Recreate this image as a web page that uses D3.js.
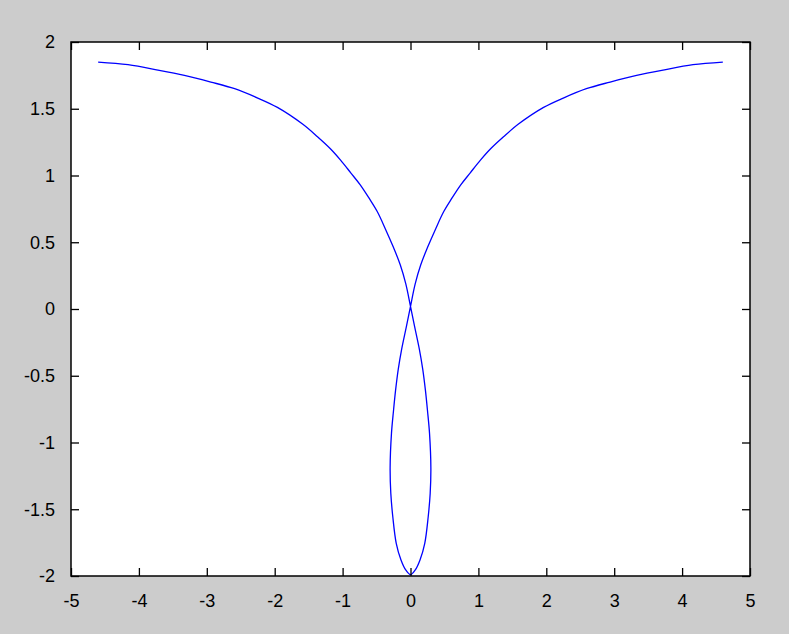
<!DOCTYPE html>
<html>
<head>
<meta charset="utf-8">
<script src="https://cdn.jsdelivr.net/npm/d3@7"></script>
<style>
  body { margin: 0; background: #cccccc; }
  svg { display: block; }
  .tick-label { font-family: "Liberation Sans", Arial, sans-serif; font-size: 18px; fill: #000; }
</style>
</head>
<body>
<script>
// tick values
var xTicks = [-5, -4, -3, -2, -1, 0, 1, 2, 3, 4, 5];
var yTicks = [-2, -1.5, -1, -0.5, 0, 0.5, 1, 1.5, 2];

// curve points, in drawing order
var xs = [-4.6, -4.16, -3.72, -3.33, -2.94, -2.59, -2.25, -1.96, -1.59, -1.37, -1.18, -1.03, -0.88, -0.74, -0.61, -0.49, -0.37, -0.25, -0.15, -0.07, 0,
          0.06, 0.13, 0.18, 0.22, 0.25, 0.28, 0.30, 0.29, 0.26, 0.21, 0.14, 0.07, 0,
          -0.07, -0.14, -0.21, -0.26, -0.29, -0.30, -0.28, -0.25, -0.22, -0.18, -0.13, -0.06, 0,
          0.07, 0.15, 0.25, 0.37, 0.49, 0.61, 0.74, 0.88, 1.03, 1.18, 1.37, 1.59, 1.96, 2.25, 2.59, 2.94, 3.33, 3.72, 4.16, 4.6];
var ys = [1.85, 1.83, 1.79, 1.75, 1.70, 1.65, 1.58, 1.51, 1.385, 1.29, 1.20, 1.115, 1.02, 0.93, 0.83, 0.73, 0.60, 0.46, 0.33, 0.19, 0.02,
          -0.13, -0.30, -0.45, -0.61, -0.76, -0.93, -1.19, -1.38, -1.56, -1.755, -1.88, -1.955, -1.99,
          -1.955, -1.88, -1.755, -1.56, -1.38, -1.19, -0.93, -0.76, -0.61, -0.45, -0.30, -0.13, 0.02,
          0.19, 0.33, 0.46, 0.60, 0.73, 0.83, 0.93, 1.02, 1.115, 1.20, 1.29, 1.385, 1.51, 1.58, 1.65, 1.70, 1.75, 1.79, 1.83, 1.85];

var width = 789,
    height = 634,
    margin = {top: 42, right: 39, bottom: 58, left: 71},
    tickLen = 8;

var svg = d3.select("body")
    .append("svg")
    .attr("width", width)
    .attr("height", height);

var x = d3.scaleLinear()
    .domain([-5, 5])
    .range([margin.left, width - margin.right]);

var y = d3.scaleLinear()
    .domain([-2, 2])
    .range([height - margin.bottom, margin.top]);

//white plot area
svg.append("rect")
    .attr("x", x(-5))
    .attr("y", y(2))
    .attr("width", x(5) - x(-5))
    .attr("height", y(-2) - y(2))
    .attr("fill", "#fff");

//curve
var pts = xs.map(function(d, i){ return [d, ys[i]]; });
var line = d3.line()
    .x(function(d){ return x(d[0]); })
    .y(function(d){ return y(d[1]); })
    .curve(d3.curveCatmullRom);

svg.append("path")
    .datum(pts)
    .attr("d", line)
    .attr("fill", "none")
    .attr("stroke", "#0000ff")
    .attr("stroke-width", 1.3);

//plain hyphen minus, like the original
function fmt(d){ return String(d); }

//axes, ticks inward on all four sides
var axBottom = d3.axisBottom(x).tickValues(xTicks).tickSize(-tickLen).tickPadding(tickLen + 10).tickFormat(fmt);
var axTop = d3.axisTop(x).tickValues(xTicks).tickSize(-tickLen).tickFormat("");
var axLeft = d3.axisLeft(y).tickValues(yTicks).tickSize(-tickLen).tickPadding(tickLen + 8).tickFormat(fmt);
var axRight = d3.axisRight(y).tickValues(yTicks).tickSize(-tickLen).tickFormat("");

function styleAxis(g){
    g.select(".domain").remove();
    g.selectAll(".tick line").attr("stroke", "#000").attr("stroke-width", 1.3);
    g.selectAll(".tick text").attr("class", "tick-label");
    g.attr("font-family", null).attr("font-size", null);
}

svg.append("g").attr("transform", "translate(0," + y(-2) + ")").call(axBottom).call(styleAxis);
svg.append("g").attr("transform", "translate(0," + y(2) + ")").call(axTop).call(styleAxis);
svg.append("g").attr("transform", "translate(" + x(-5) + ",0)").call(axLeft).call(styleAxis);
svg.append("g").attr("transform", "translate(" + x(5) + ",0)").call(axRight).call(styleAxis);

//box
svg.append("rect")
    .attr("x", x(-5))
    .attr("y", y(2))
    .attr("width", x(5) - x(-5))
    .attr("height", y(-2) - y(2))
    .attr("fill", "none")
    .attr("stroke", "#000")
    .attr("stroke-width", 1.5);
</script>
</body>
</html>
